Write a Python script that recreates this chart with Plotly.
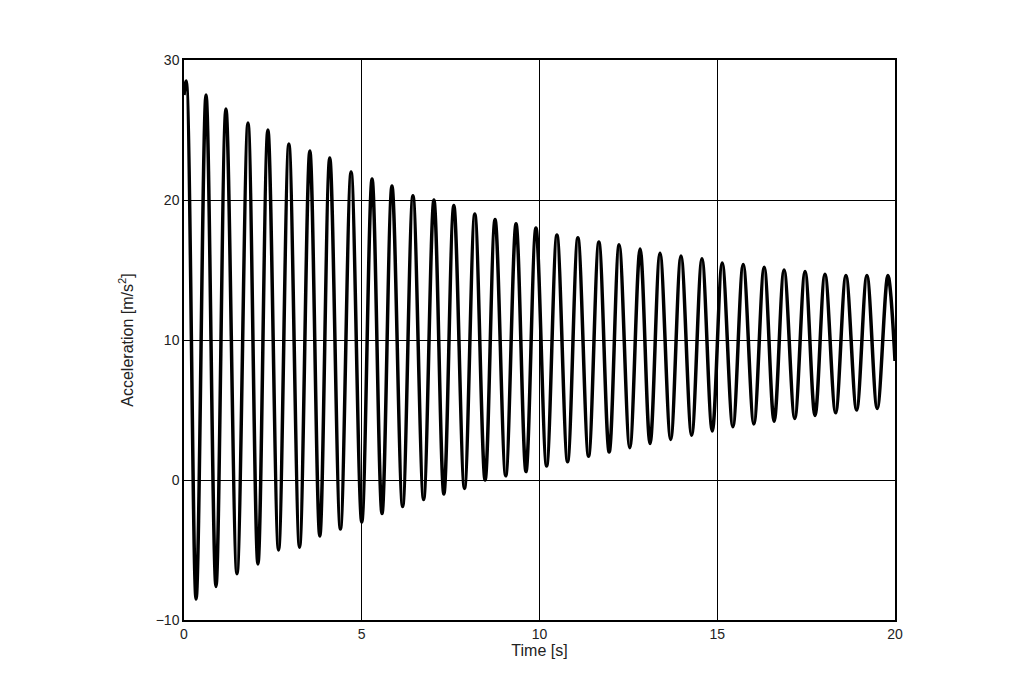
import plotly.graph_objects as go

peak_t = [0.06,0.62,1.18,1.8,2.36,2.95,3.54,4.1,4.7,5.29,5.85,6.44,7.03,7.59,8.18,8.75,9.34,9.9,10.49,11.08,11.67,12.24,12.83,13.39,13.98,14.57,15.14,15.73,16.32,16.88,17.47,18.03,18.62,19.21,19.8]
peak_v = [28.5,27.5,26.5,25.5,25,24,23.5,23,22,21.5,21,20.3,20,19.6,19,18.6,18.3,18,17.5,17.3,17,16.8,16.5,16.2,16,15.8,15.5,15.4,15.2,15,14.9,14.7,14.6,14.6,14.6]
trough_t = [0.34,0.9,1.49,2.08,2.66,3.25,3.82,4.4,5.0,5.57,6.15,6.74,7.31,7.89,8.47,9.05,9.62,10.2,10.79,11.38,11.96,12.54,13.11,13.69,14.28,14.86,15.44,16.03,16.6,17.18,17.75,18.33,18.92,19.5]
trough_v = [-8.5,-7.6,-6.7,-6,-5,-4.8,-4,-3.5,-3,-2.4,-1.9,-1.4,-1,-0.6,0,0.3,0.6,1,1.3,1.7,2,2.3,2.6,2.9,3.2,3.5,3.8,4,4.2,4.4,4.6,4.8,5,5.1]
start_t, start_v = 0.0, 27.5
end_t, end_v = 20.0, 8.5

t = [start_t]; v = [start_v]
for i in range(len(peak_t)):
    t.append(peak_t[i]); v.append(peak_v[i])
    if i < len(trough_t):
        t.append(trough_t[i]); v.append(trough_v[i])
t.append(end_t); v.append(end_v)

fig = go.Figure(go.Scatter(x=t, y=v, mode="lines", line=dict(color="black", width=3.5, shape="spline", smoothing=1.0)))
ax = dict(showline=True, linecolor="black", linewidth=1.5, mirror=True, showgrid=True, gridcolor="black",
          gridwidth=1.2, zeroline=False, ticks="", automargin=False, tickfont=dict(size=14, color="#222"))
fig.update_layout(
    width=1032, height=688, paper_bgcolor="white", plot_bgcolor="white",
    margin=dict(l=176, r=145, t=52, b=76), showlegend=False,
    font=dict(family="Liberation Sans, Arial, sans-serif", color="#222"),
    xaxis=dict(ax, range=[0, 20], dtick=5, title=dict(text="Time [s]", font=dict(size=16), standoff=2)),
    yaxis=dict(ax, range=[-10, 30], dtick=10, title=dict(text="Acceleration [m/s<sup>2</sup>]", font=dict(size=16), standoff=18)),
)
fig.write_html("out.html")
